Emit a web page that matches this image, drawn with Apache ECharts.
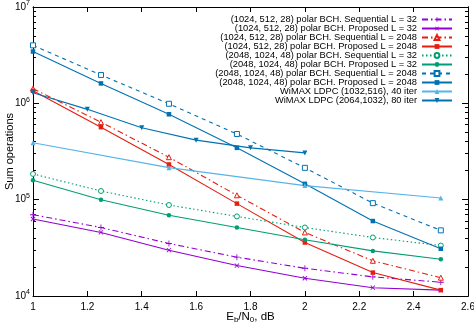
<!DOCTYPE html>
<html>
<head>
<meta charset="utf-8">
<script src="https://cdn.jsdelivr.net/npm/echarts@6/dist/echarts.min.js"></script>
<style>html,body{margin:0;padding:0;background:#fff}#c{width:474px;height:325px}</style>
</head>
<body>
<div id="c"></div>
<script>
// ---- data ----
const xStd = [1, 1.25, 1.5, 1.75, 2, 2.25, 2.5];
const xWimax40 = [1, 1.5, 2, 2.5];
const xWimax80 = [1, 1.2, 1.4, 1.6, 1.8, 2];

const seqL32_1024 = [69800, 51400, 35100, 25300, 19400, 15800, 13900];
const propL32_1024 = [63000, 45700, 29900, 20700, 15300, 12200, 11500];
const seqL2048_1024 = [1420000, 638000, 276000, 111000, 45700, 23200, 15500];
const propL2048_1024 = [1350000, 566000, 232000, 91000, 35900, 17500, 11500];
const seqL32_2048 = [185000, 123000, 88000, 67000, 51400, 40500, 33400];
const propL32_2048 = [159000, 100000, 69000, 51400, 38300, 29400, 24100];
const seqL2048_2048 = [4000000, 1970000, 990000, 480000, 214000, 92000, 48000];
const propL2048_2048 = [3450000, 1610000, 770000, 345000, 146000, 60000, 30900];
const wimax40 = [390000, 215000, 140000, 104000];
const wimax80 = [1290000, 866000, 558000, 415000, 345000, 306000];

const names = [
  '(1024, 512, 28) polar BCH. Sequential L = 32',
  '(1024, 512, 28) polar BCH. Proposed L = 32',
  '(1024, 512, 28) polar BCH. Sequential L = 2048',
  '(1024, 512, 28) polar BCH. Proposed L = 2048',
  '(2048, 1024, 48) polar BCH. Sequential L = 32',
  '(2048, 1024, 48) polar BCH. Proposed L = 32',
  '(2048, 1024, 48) polar BCH. Sequential L = 2048',
  '(2048, 1024, 48) polar BCH. Proposed L = 2048',
  'WiMAX LDPC (1032,516), 40 iter',
  'WiMAX LDPC (2064,1032), 80 iter'
];
const xTicks = [1, 1.2, 1.4, 1.6, 1.8, 2, 2.2, 2.4, 2.6];
const yMajor = [1e4, 1e5, 1e6, 1e7];
// ---- end data ----

const yMinor = [];
[1e4, 1e5, 1e6].forEach(d => { for (let k = 2; k <= 9; k++) yMinor.push(k * d); });

const PURPLE = '#9400d3', RED = '#e51e10', GREEN = '#009e73', BLUE = '#0072b2', LBLUE = '#56b4e9';
const PLUS = 'path://M4.3,0h1.4v10h-1.4zM0,4.3h10v1.4h-10z';
const FONT = 'Liberation Sans';

function zip(xs, ys) { return xs.map((x, i) => [x, ys[i]]); }
function mk(i, xs, ys, color, dash, symbol, opts) {
  opts = opts || {};
  return {
    name: names[i], type: 'line', data: zip(xs, ys),
    xAxisIndex: 0, yAxisIndex: 0,
    symbol: symbol, symbolSize: opts.size || 5, symbolRotate: opts.rotate || 0,
    showAllSymbol: true,
    lineStyle: { color: color, width: 1.1, type: dash },
    itemStyle: { color: opts.empty ? '#fff' : color, borderColor: color, borderWidth: opts.empty ? 1 : 0 },
    emphasis: { disabled: true }, animation: false, z: 3
  };
}
const dashDot = [6, 3, 1.5, 3];

const series = [
  mk(0, xStd, seqL32_1024, PURPLE, dashDot, PLUS, { size: 6 }),
  mk(1, xStd, propL32_1024, PURPLE, 'solid', PLUS, { size: 6, rotate: 45 }),
  mk(2, xStd, seqL2048_1024, RED, dashDot, 'triangle', { empty: true, size: 5 }),
  mk(3, xStd, propL2048_1024, RED, 'solid', 'rect', { size: 4.5 }),
  mk(4, xStd, seqL32_2048, GREEN, [1.5, 2.5], 'circle', { empty: true, size: 5 }),
  mk(5, xStd, propL32_2048, GREEN, 'solid', 'circle', { size: 4.5 }),
  mk(6, xStd, seqL2048_2048, BLUE, [4, 4], 'rect', { empty: true, size: 5 }),
  mk(7, xStd, propL2048_2048, BLUE, 'solid', 'rect', { size: 4.5 }),
  mk(8, xWimax40, wimax40, LBLUE, 'solid', 'triangle', { size: 5 }),
  mk(9, xWimax80, wimax80, BLUE, 'solid', 'triangle', { size: 5, rotate: 180 })
];

const chart = echarts.init(document.getElementById('c'), null, { renderer: 'canvas' });
const axisLine = { show: true, lineStyle: { color: '#000', width: 1 } };
function yAx(pos, ticks, len, labels) {
  return {
    type: 'log', min: 1e4, max: 1e7, logBase: 10, position: pos,
    axisLine: axisLine,
    axisTick: { show: true, inside: true, length: len, customValues: ticks, lineStyle: { color: '#000' } },
    axisLabel: labels ? {
      show: true, customValues: yMajor, margin: 3,
      formatter: v => '{b|10}{s|' + Math.round(Math.log10(v)) + '}',
      rich: { b: { fontSize: 10, fontFamily: FONT, color: '#000' }, s: { fontSize: 7, fontFamily: FONT, color: '#000', padding: [0, 0, 7, 0] } }
    } : { show: false },
    splitLine: { show: false }, minorTick: { show: false }
  };
}
const yAxes = [yAx('left', yMajor, 6, true), yAx('left', yMinor, 3, false), yAx('right', yMajor, 6, false), yAx('right', yMinor, 3, false)];
yAxes[0].name = 'Sum operations';
yAxes[0].nameLocation = 'middle';
yAxes[0].nameGap = 18;
yAxes[0].nameMoveOverlap = false;
yAxes[0].nameTextStyle = { fontSize: 11, fontFamily: FONT, color: '#000' };

function xAx(pos, labels) {
  return {
    type: 'value', min: 1, max: 2.6, interval: 0.2, position: pos,
    axisLine: axisLine,
    axisTick: { show: true, inside: true, length: 5, customValues: xTicks, lineStyle: { color: '#000' } },
    axisLabel: labels ? { show: true, customValues: xTicks, fontSize: 10, fontFamily: FONT, color: '#000', margin: 6, formatter: v => String(+(+v).toFixed(1)) } : { show: false },
    splitLine: { show: false }
  };
}
const xAxes = [xAx('bottom', true), xAx('top', false)];
xAxes[0].name = '{n|E}{sub|b}{n|/N}{sub|0}{n|, dB}';
xAxes[0].nameLocation = 'middle';
xAxes[0].nameGap = 14;
xAxes[0].nameMoveOverlap = false;
xAxes[0].nameTextStyle = {
  rich: { n: { fontSize: 11.5, fontFamily: FONT, color: '#000' }, sub: { fontSize: 8, fontFamily: FONT, color: '#000', padding: [6, 0, 0, 0] } }
};

chart.setOption({
  animation: false,
  backgroundColor: '#fff',
  grid: { left: 33, right: 6, top: 7, bottom: 29, containLabel: false, outerBoundsMode: 'none' },
  xAxis: xAxes,
  yAxis: yAxes,
  legend: {
    show: true, orient: 'vertical', align: 'right', right: 16, top: 10,
    itemWidth: 30, itemHeight: 6, itemGap: 0,
    textStyle: { fontSize: 9.3, fontFamily: FONT, color: '#000', lineHeight: 8 },
    data: names, selectedMode: false
  },
  series: series
});
</script>
</body>
</html>
